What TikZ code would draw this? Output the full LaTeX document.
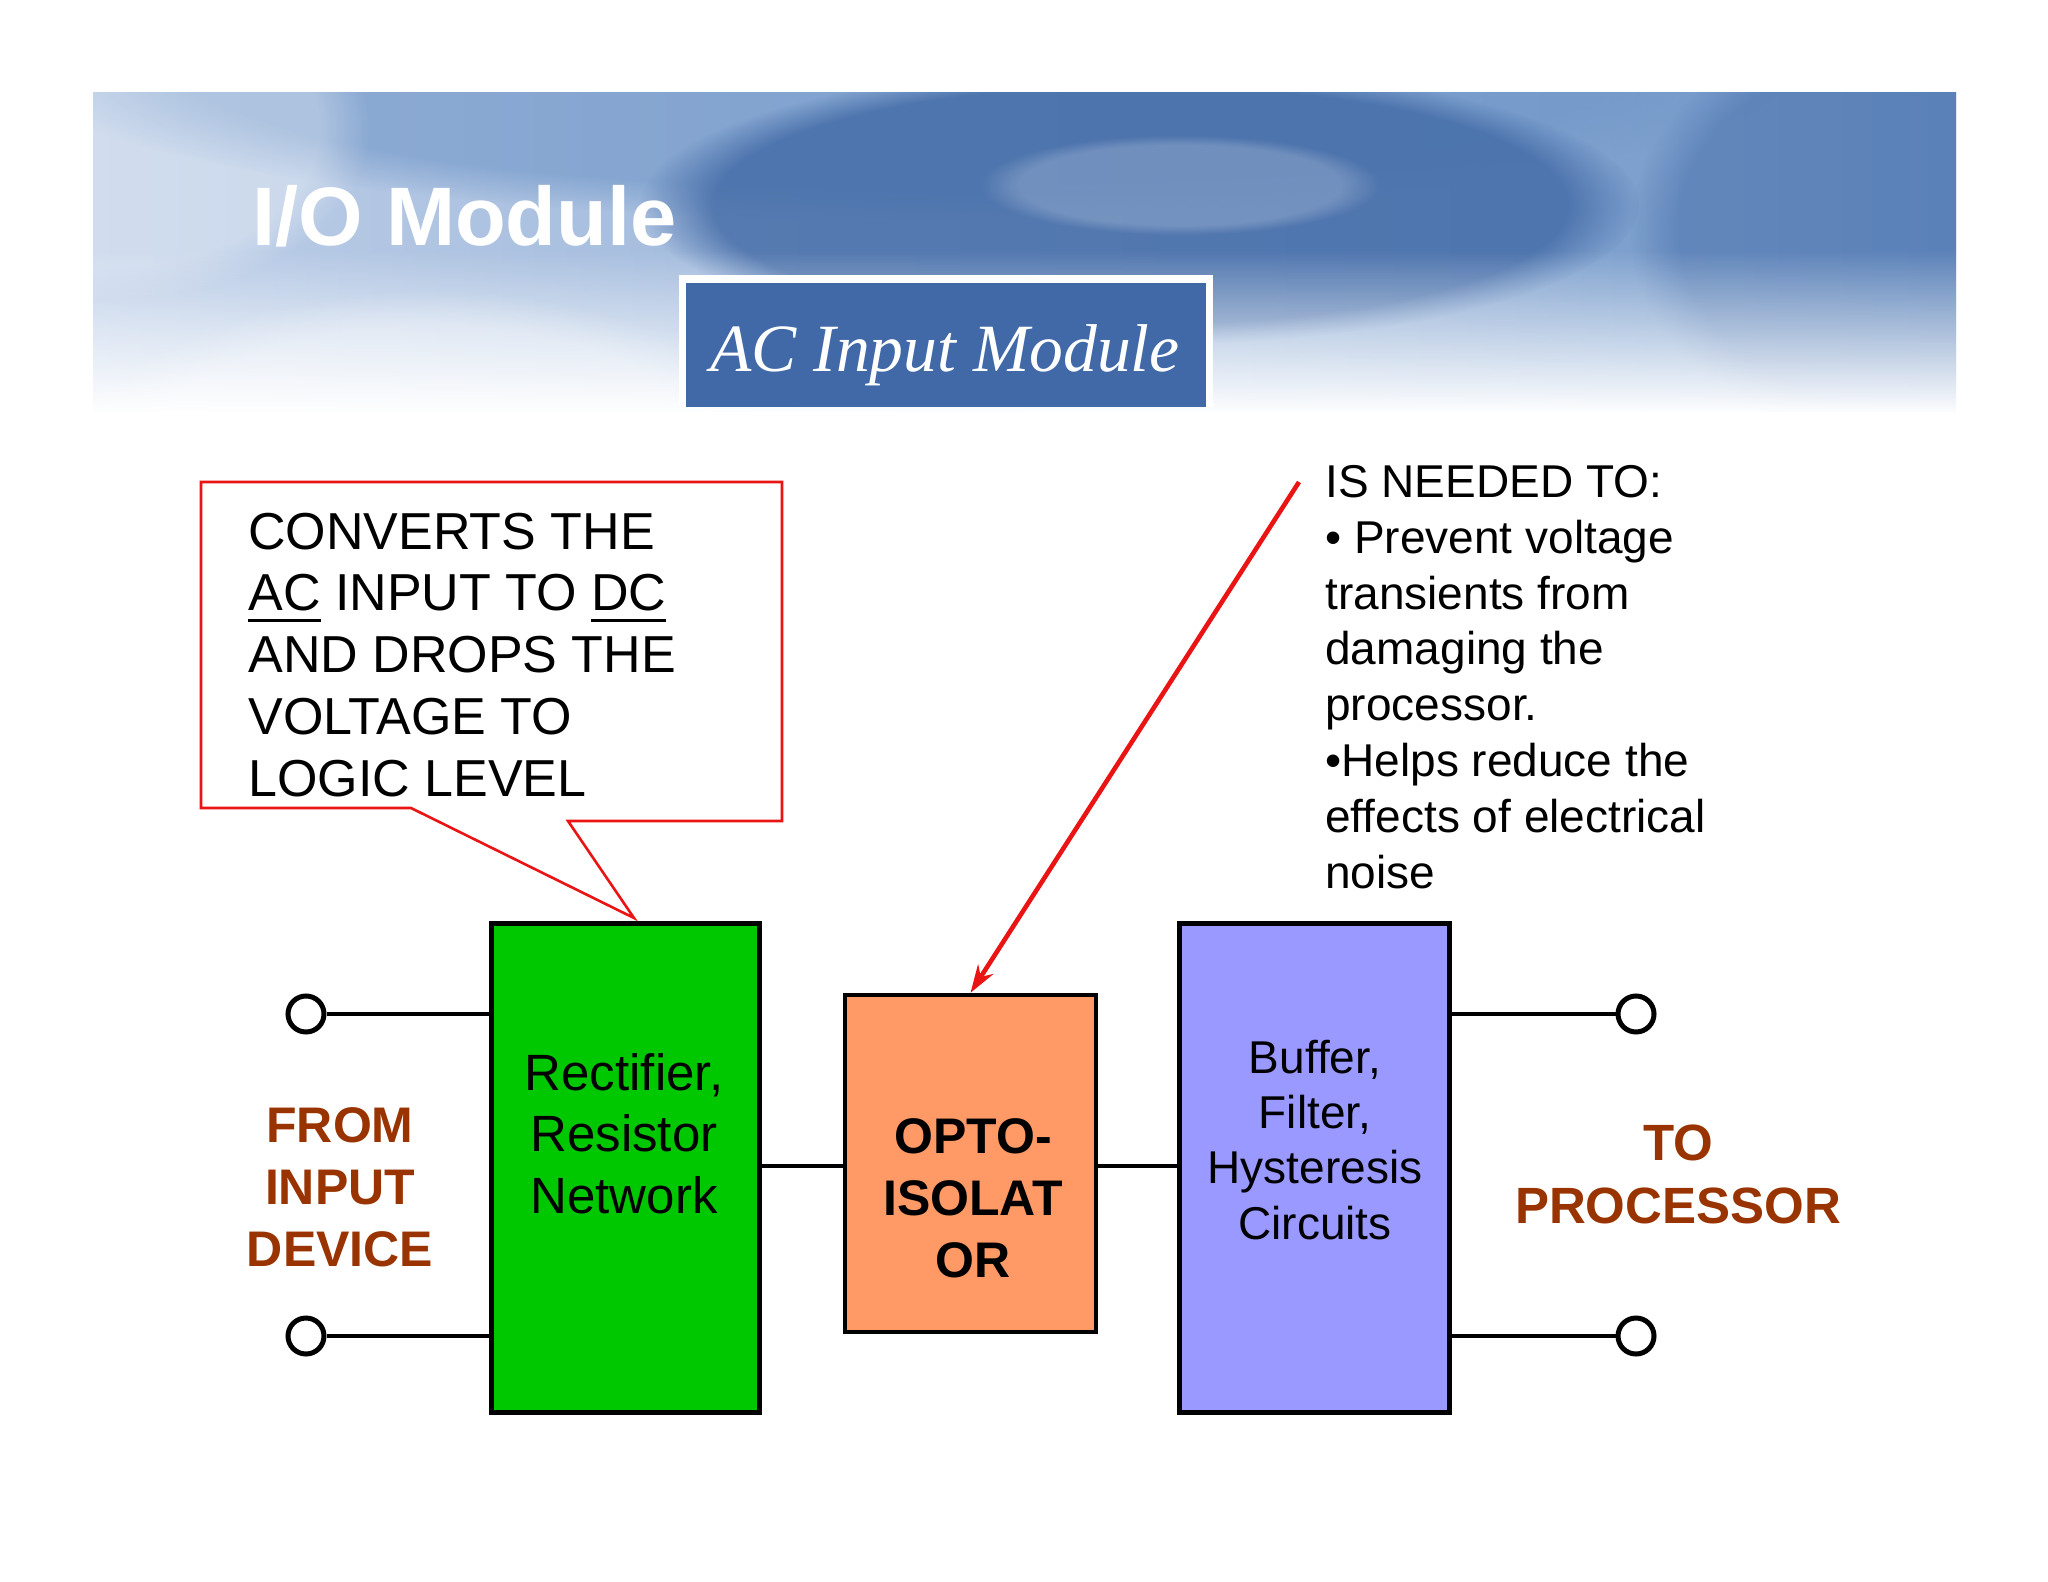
\documentclass[tikz,border=0pt]{standalone}
\usepackage{fontspec}
\setmainfont{Liberation Sans}
\newfontfamily\headserif{Liberation Serif}
\usetikzlibrary{arrows.meta,fadings}
\tikzfading[name=fadedown, top color=transparent!100, bottom color=transparent!0]
\newcommand\ulthick[1]{\leavevmode\setbox0\hbox{#1}\rlap{\vrule height -4pt depth 5.7pt width \wd0}\box0\relax}
\definecolor{bnLight}{RGB}{190,207,232}
\definecolor{bnMid}{RGB}{112,150,200}
\definecolor{bnDark}{RGB}{66,106,166}
\definecolor{acBlue}{RGB}{65,105,168}
\definecolor{calloutRed}{RGB}{235,20,20}
\definecolor{greenFill}{RGB}{0,200,0}
\definecolor{optoFill}{RGB}{255,153,102}
\definecolor{bufFill}{RGB}{153,153,255}
\definecolor{labelBrown}{RGB}{153,51,0}
\begin{document}
\begin{tikzpicture}[x=0.5pt,y=-0.5pt,
  blockbox/.style={draw=black, line width=2.5pt, inner sep=0pt},
  term/.style={circle, draw=black, line width=2.5pt, fill=white, minimum size=18pt, inner sep=0pt},
  wire/.style={draw=black, line width=2pt},
  calltxt/.style={anchor=base west, align=left, inner sep=0pt, font=\fontsize{26pt}{30.85pt}\selectfont},
  needtxt/.style={anchor=base west, align=left, inner sep=0pt, font=\fontsize{23pt}{27.9pt}\selectfont},
  boxtxt/.style={anchor=base, align=center, inner sep=0pt},
  sidelabel/.style={anchor=base, align=center, inner sep=0pt, text=labelBrown, font=\bfseries\fontsize{25pt}{31pt}\selectfont}
]
\useasboundingbox (0,0) rectangle (2048,1582);
\fill[white] (0,0) rectangle (2048,1582);

% ---- banner ----
\begin{scope}
  \clip (93,93) rectangle (1956,412);
  \shade[left color=bnLight, right color=bnMid] (93,93) rectangle (1956,412);
  \fill[bnMid, opacity=.6, path fading=circle with fuzzy edge 20 percent] (900,60) ellipse (900 and 160);
  \fill[bnDark, opacity=.8, path fading=circle with fuzzy edge 15 percent] (1140,205) ellipse (500 and 140);
  \fill[white, opacity=.2, path fading=circle with fuzzy edge 20 percent] (1180,185) ellipse (200 and 50);
  \fill[bnDark, opacity=.45, path fading=circle with fuzzy edge 15 percent] (1960,230) ellipse (330 and 230);
  \fill[white, opacity=.3, path fading=circle with fuzzy edge 20 percent] (110,130) ellipse (260 and 170);
  \fill[white, opacity=.3, path fading=circle with fuzzy edge 20 percent] (430,470) ellipse (360 and 180);
\end{scope}
\fill[white, path fading=fadedown] (85,250) rectangle (1965,414);

\node[anchor=base west, inner sep=0pt, text=white, font=\bfseries\fontsize{41.5pt}{50pt}\selectfont] (title) at (252,246) {I/O Module};

\fill[white] (679,275) rectangle (1213,407);
\node[fill=acBlue, inner sep=0pt, minimum width=260pt, minimum height=62pt] (acbox) at (946,345) {};
\node[anchor=base, inner sep=0pt, text=white, font=\headserif\itshape\fontsize{33.8pt}{40pt}\selectfont] (actitle) at (945,372) {AC Input Module};

% ---- callout ----
\coordinate (c1) at (201,482);
\coordinate (c2) at (782,482);
\coordinate (c3) at (782,821);
\coordinate (c4) at (568,821);
\coordinate (ctip) at (634,918);
\coordinate (c5) at (411,808);
\coordinate (c6) at (201,808);
\draw[calloutRed, line width=1.3pt, line join=miter] (c1) -- (c2) -- (c3) -- (c4) -- (ctip) -- (c5) -- (c6) -- cycle;
\node[calltxt] (calltext) at (248,796) {CONVERTS THE\\\ulthick{AC} INPUT TO \ulthick{DC}\\AND DROPS THE\\VOLTAGE TO\\LOGIC LEVEL};

% ---- needed text ----
\node[needtxt] (needtext) at (1325,888) {IS NEEDED TO:\\• Prevent voltage\\transients from\\damaging the\\processor.\\•Helps reduce the\\effects of electrical\\noise};

% ---- blocks ----
\node[blockbox, fill=greenFill, minimum width=134pt, minimum height=244.5pt] (green) at (625,1167.5) {};
\node[blockbox, fill=optoFill, line width=2.2pt, minimum width=125.5pt, minimum height=168.5pt] (opto) at (970.5,1163.5) {};
\node[blockbox, fill=bufFill, minimum width=135pt, minimum height=244.5pt] (buf) at (1314,1167.5) {};

\node[boxtxt, font=\fontsize{25.5pt}{30.75pt}\selectfont] (greentext) at (624,1213) {Rectifier,\\Resistor\\Network};
\node[boxtxt, font=\bfseries\fontsize{25pt}{31pt}\selectfont] (optotext) at (973,1277) {OPTO-\\ISOLAT\\OR};
\node[boxtxt, font=\fontsize{23pt}{27.65pt}\selectfont] (buftext) at (1315,1239) {Buffer,\\Filter,\\Hysteresis\\Circuits};

% ---- terminals ----
\node[term] (tin1) at (306,1014) {};
\node[term] (tin2) at (306,1336) {};
\node[term] (tout1) at (1636,1014) {};
\node[term] (tout2) at (1636,1336) {};

\draw[wire] (tin1.east) -- (tin1.east -| green.west);
\draw[wire] (tin2.east) -- (tin2.east -| green.west);
\draw[wire] (green.east |- 0,1166) -- (opto.west |- 0,1166);
\draw[wire] (opto.east |- 0,1166) -- (buf.west |- 0,1166);
\draw[wire] (tout1.west -| buf.east) -- (tout1.west);
\draw[wire] (tout2.west -| buf.east) -- (tout2.west);

\node[sidelabel] (fromlabel) at (340,1266) {FROM\\INPUT\\DEVICE};
\node[sidelabel, font=\bfseries\fontsize{25.5pt}{31.5pt}\selectfont] (tolabel) at (1678,1223) {TO\\PROCESSOR};

% ---- red arrow ----
\coordinate (arrstart) at (1299,482);
\draw[calloutRed, line width=2.3pt, -{Stealth[length=14pt, width=9pt]}] (arrstart) -- (opto.north);
\end{tikzpicture}
\end{document}
